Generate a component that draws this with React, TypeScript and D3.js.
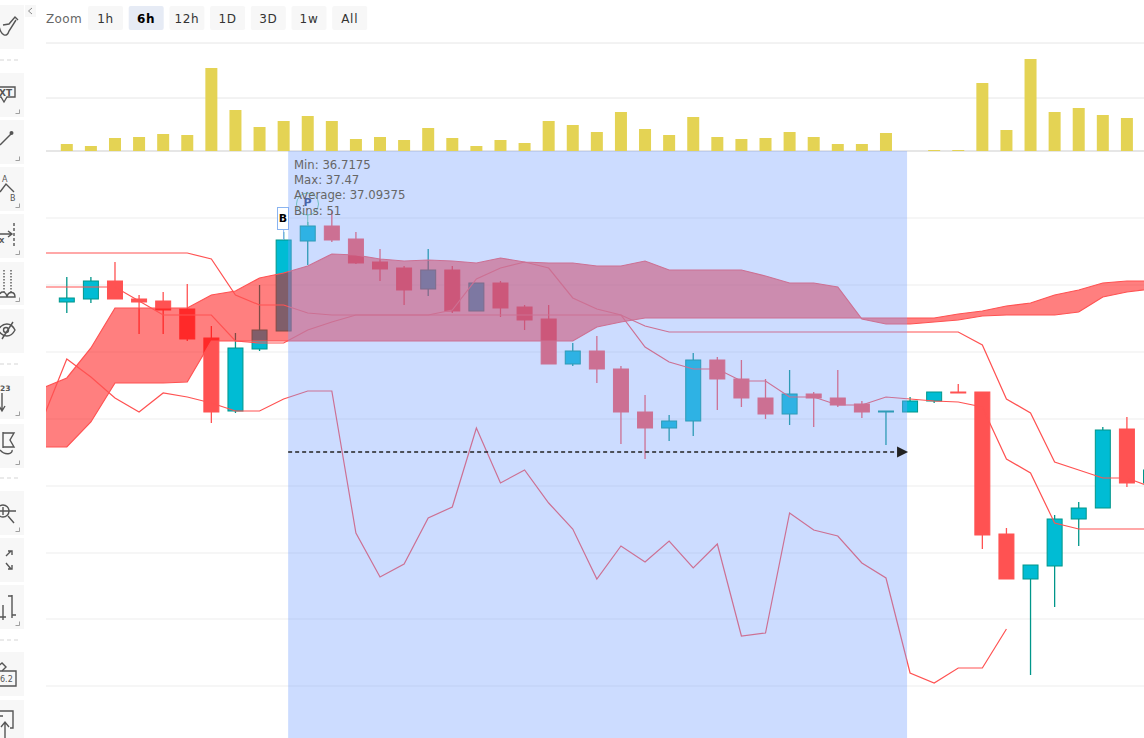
import React from "react";
import * as d3 from "d3";

const opens = [37.198,37.207,37.261,37.207,37.201,37.177,37.090,36.871,37.057,37.111,37.381,37.426,37.387,37.318,37.300,37.237,37.294,37.171,37.255,37.183,37.147,37.012,37.051,36.997,36.868,36.820,36.841,37.024,36.967,36.910,36.862,36.922,36.910,36.892,36.868,36.868,36.901,36.928,36.928,36.502,36.367,36.406,36.547,36.580,36.817,36.655];
const highs = [37.273,37.273,37.318,37.219,37.228,37.252,37.126,37.105,37.249,37.408,37.438,37.470,37.408,37.357,37.306,37.357,37.306,37.255,37.261,37.189,37.189,37.075,37.096,37.006,36.919,36.859,37.045,37.033,37.024,36.967,36.994,36.928,36.994,36.901,36.871,36.913,36.928,36.952,36.928,36.520,36.409,36.559,36.598,36.823,36.853,36.709];
const lows = [37.165,37.195,37.207,37.102,37.102,37.081,36.835,36.865,37.051,37.111,37.309,37.378,37.312,37.261,37.189,37.216,37.165,37.171,37.153,37.114,37.012,37.006,36.955,36.772,36.727,36.781,36.796,36.874,36.883,36.847,36.829,36.823,36.883,36.850,36.769,36.868,36.895,36.925,36.457,36.367,36.079,36.283,36.466,36.580,36.643,36.643];
const closes = [37.210,37.261,37.207,37.198,37.174,37.087,36.868,37.060,37.114,37.384,37.426,37.384,37.315,37.297,37.234,37.294,37.171,37.255,37.180,37.144,37.012,37.051,36.997,36.868,36.820,36.841,37.024,36.967,36.910,36.862,36.922,36.910,36.889,36.868,36.871,36.901,36.928,36.925,36.499,36.367,36.409,36.547,36.580,36.814,36.655,36.694];
const volumes = [70,50,130,140,170,160,830,410,240,300,350,300,120,140,110,230,130,50,110,80,300,260,190,390,220,160,340,140,120,130,190,140,70,70,180,0,10,10,680,210,920,390,430,360,330];

// Ichimoku series start one bar before the first candle (index -1).
const kijun = [37.345,37.345,37.345,37.345,37.345,37.345,37.345,37.327,37.219,37.189,37.189,37.165,37.159,37.159,37.159,37.159,37.159,37.159,37.159,37.159,37.159,37.159,37.159,37.159,37.159,37.126,37.108,37.108,37.108,37.108,37.108,37.108,37.108,37.108,37.108,37.108,37.108,37.108,37.108,37.069,36.907,36.865,36.718,36.694,36.670,36.670,36.643];
const tenkan = [37.243,37.243,37.243,37.243,37.201,37.159,37.159,37.159,37.081,37.075,37.075,37.114,37.138,37.159,37.159,37.159,37.159,37.174,37.267,37.300,37.318,37.300,37.210,37.177,37.159,37.063,37.018,36.997,36.997,36.961,36.961,36.913,36.913,36.889,36.889,36.913,36.907,36.901,36.898,36.883,36.727,36.685,36.535,36.517,36.517,36.517,36.517];
const chikou = [36.847,37.027,36.973,36.910,36.868,36.925,36.913,36.895,36.871,36.871,36.907,36.931,36.931,36.505,36.373,36.412,36.550,36.583,36.820,36.655,36.694,36.595,36.517,36.367,36.466,36.418,36.481,36.400,36.472,36.196,36.205,36.565,36.514,36.496,36.415,36.370,36.085,36.055,36.100,36.100,36.217];
const spanA = [36.940,36.970,37.060,37.180,37.180,37.180,37.180,37.219,37.231,37.270,37.285,37.306,37.342,37.339,37.327,37.321,37.324,37.321,37.315,37.330,37.318,37.315,37.315,37.306,37.306,37.321,37.294,37.294,37.294,37.294,37.276,37.255,37.255,37.243,37.147,37.132,37.132,37.138,37.144,37.156,37.159,37.159,37.159,37.168,37.213,37.228,37.237];
const spanB = [36.763,36.763,36.838,36.955,36.955,36.955,36.958,37.081,37.081,37.081,37.081,37.081,37.081,37.081,37.081,37.081,37.081,37.081,37.081,37.081,37.081,37.081,37.081,37.123,37.138,37.150,37.150,37.150,37.150,37.150,37.150,37.150,37.150,37.150,37.150,37.150,37.150,37.150,37.162,37.171,37.186,37.195,37.219,37.234,37.255,37.261,37.261];

const priceTicks = [37.45,37.249,37.048,36.847,36.646,36.445,36.247,36.046];
const volumeTicks = [0,530,1080];
const zoomLabels = ["1h","6h","12h","1D","3D","1w","All"];
const statLines = ["Min: 36.7175","Max: 37.47","Average: 37.09375","Bins: 51"];

const FONT = "'DejaVu Sans', sans-serif";
const UP = "#00bcd4", UP_EDGE = "#00968a", DOWN = "#ff5252";
const LEFT = 46, RIGHT = 1144;

const x = d3.scaleLinear().domain([0, 45]).range([66.8, 1151]);
const y = d3.scaleLinear().domain([37.45, 36.046]).range([218, 686]);
const yv = d3.scaleLinear().domain([0, 1080]).range([151, 43]);

const lineOf = (vals: number[], start = -1) =>
  d3.line<number>().x((_, i) => x(i + start)).y((d) => y(d))(vals) as string;

const cloudPath = d3.area<number>()
  .x((_, i) => x(i - 1))
  .y1((d) => y(d))
  .y0((_, i) => y(spanB[i]))(spanA) as string;

const selX0 = x(9) + 4.5;
const selX1 = x(35) - 3;
const arrowY = y(36.748);

const boxes: [number, number, boolean][] = [
  [5,44,false],[73,44,true],[120,44,true],[167,44,true],[214,44,true],[262,43,true],[309,44,false],
  [376,43,true],[424,44,true],[491,44,true],[538,44,false],[585,44,true],[652,44,false],[700,44,false],
];
const dashYs = [60,364,478,640];
const ink = "#555";

function Toolbar() {
  const s = { fill: "none", stroke: ink, strokeWidth: 1.4 };
  const t = { fontFamily: FONT, fill: ink, fontWeight: 700 };
  return (
    <g>
      {boxes.map(([by, h, c], i) => (
        <g key={i}>
          <rect x={0} y={by} width={24} height={h} fill="#f7f7f7" />
          {c && <path d={`M15.5 ${by + h - 3.5}H19.5V${by + h - 7.5}`} fill="none" stroke="#888" strokeWidth={0.8} />}
        </g>
      ))}
      {dashYs.map((d) => (
        <line key={d} x1={0} x2={19} y1={d} y2={d} stroke="#d5d5d5" strokeDasharray="4 3" />
      ))}
      <rect x={25} y={5} width={11} height={12} fill="#f7f7f7" />
      <path d="M32 8L28.5 11L32 14" fill="none" stroke="#888" />
      <path d="M-1 26C1 36 7 38 9 31L16 20M3 25L9 24L15 17L18 20" {...s} />
      <path d="M0 87H15V97H7L4 102L1 97H0" {...s} />
      <text x={-1} y={96} fontSize={9} {...t}>XT</text>
      <path d="M0 145L11 134" {...s} /><circle cx={11.5} cy={133} r={2} fill={ink} />
      <path d="M0 192L6 184L14 192" {...s} />
      <text x={2} y={182} fontSize={8} fontFamily={FONT} fill={ink}>A</text>
      <text x={10} y={201} fontSize={8} fontFamily={FONT} fill={ink}>B</text>
      <path d="M14 223V246" {...s} strokeDasharray="3 2" />
      <path d="M0 234H11M8 231L12 234L8 237" {...s} />
      <text x={-1} y={243} fontSize={7} {...t}>X</text>
      <path d="M4 270V292M11 270V292" {...s} strokeDasharray="1.5 1.5" />
      <path d="M0 297H15C15 291 8 291 7 297C6 291 1 291 0 294" {...s} />
      <path d="M-2 330C3 322 11 322 15 330C11 338 3 338 -2 330Z" {...s} />
      <circle cx={6} cy={330} r={2.5} {...s} /><path d="M2 339L13 322" {...s} />
      <text x={0} y={391} fontSize={7.5} {...t}>23</text>
      <path d="M2 393V410M-1 406L2 411L5 406" {...s} />
      <path d="M3 432V448M3 433L14 433L10 440L14 447H3" {...s} />
      <path d="M0 450C5 456 13 454 12 450" {...s} />
      <circle cx={3} cy={511} r={6} {...s} />
      <path d="M0 511H16M3 507V515M8 516L14 523" {...s} />
      <path d="M6 556L11 551M8 551H12V555M6 563L11 569M8 569H12V565" {...s} />
      <path d="M12 595V618M8 596H12M12 615H16M3 605V620M0 617H6" {...s} />
      <path d="M-2 666L2 663L6 667L2 671" {...s} />
      <path d="M-2 671H16V686H-2" {...s} />
      <text x={0} y={682} fontSize={8} fontFamily={FONT} fill={ink}>6.2</text>
      <path d="M-1 711H13V728H10M5 738V723M1 727L5 722L9 727M-1 716L3 716" {...s} />
    </g>
  );
}

export default function App() {
  return (
    <svg width={1144} height={738} style={{ position: "absolute", left: 0, top: 0, display: "block", background: "#fff" }}>
      <defs>
        <clipPath id="plot"><rect x={LEFT} y={151} width={RIGHT - LEFT} height={587} /></clipPath>
      </defs>
      <Toolbar />
      <text x={46} y={23} fontFamily={FONT} fontSize={12} letterSpacing={0.4} fill="#666">Zoom</text>
      {zoomLabels.map((l, i) => {
        const bx = 88 + i * 40.7;
        const on = l === "6h";
        return (
          <g key={l}>
            <rect x={bx} y={6} width={35} height={24} rx={2} fill={on ? "#e6ebf5" : "#f7f7f7"} />
            <text x={bx + 17.5} y={23} textAnchor="middle" fontFamily={FONT} fontSize={12} letterSpacing={0.7}
              fontWeight={on ? 700 : 400} fill={on ? "#000" : "#333"}>{l}</text>
          </g>
        );
      })}

      {volumeTicks.map((v, i) => (
        <line key={v} x1={LEFT} x2={RIGHT} y1={yv(v)} y2={yv(v)} stroke="#e6e6e6" strokeWidth={i === 0 ? 2 : 1} />
      ))}
      {priceTicks.map((p) => (
        <line key={p} x1={LEFT} x2={RIGHT} y1={y(p)} y2={y(p)} stroke="#ededed" strokeWidth={1} />
      ))}
      {volumes.map((v, i) => v > 0 && (
        <rect key={i} x={x(i) - 6} y={yv(v)} width={12} height={yv(0) - yv(v)} fill="#e4d354" />
      ))}

      <g clipPath="url(#plot)">
        {opens.map((o, i) => {
          const c = closes[i];
          const up = c >= o;
          const cx = x(i);
          const top = y(Math.max(o, c));
          const bot = y(Math.min(o, c));
          return (
            <g key={i}>
              <line x1={cx} x2={cx} y1={y(highs[i])} y2={y(lows[i])} stroke={up ? UP_EDGE : DOWN} strokeWidth={1.3} />
              <rect x={cx - 7.5} y={top} width={15} height={Math.max(bot - top, 1)} fill={up ? UP : DOWN} stroke={up ? UP_EDGE : DOWN} strokeWidth={1} />
            </g>
          );
        })}
        <path d={cloudPath} fill="rgba(255,0,0,0.5)" stroke="none" />
        <path d={lineOf(spanA)} fill="none" stroke="#ff5252" strokeWidth={1.2} />
        <path d={lineOf(spanB)} fill="none" stroke="#ff5252" strokeWidth={1.2} />
        <path d={lineOf(kijun)} fill="none" stroke="#ff5252" strokeWidth={1.2} />
        <path d={lineOf(tenkan)} fill="none" stroke="#ff5252" strokeWidth={1.2} />
        <path d={lineOf(chikou)} fill="none" stroke="#ff5252" strokeWidth={1.2} />
      </g>

      <line x1={x(9)} x2={x(9)} y1={230} y2={240} stroke="#8ab4f0" />
      <rect x={277.5} y={207.5} width={11} height={22} fill="#fff" stroke="#8ab4f0" />
      <text x={283} y={222} textAnchor="middle" fontFamily="'DejaVu Sans', sans-serif" fontWeight={700} fontSize={11} fill="#000">B</text>
      <line x1={x(10)} x2={x(10)} y1={215} y2={226} stroke="#6fd49c" />
      <circle cx={307.5} cy={204} r={11} fill="none" stroke="#6fd49c" />
      <text x={307.5} y={206} textAnchor="middle" fontFamily="'DejaVu Sans', sans-serif" fontWeight={700} fontSize={11} fill="#2c3e70">P</text>

      <rect x={selX0} y={151} width={selX1 - selX0} height={587} fill="rgba(121,163,255,0.38)" />
      <line x1={selX0} x2={selX1 - 10} y1={arrowY} y2={arrowY} stroke="#222" strokeWidth={1.4} strokeDasharray="4 3" />
      <path d={`M${selX1 - 10} ${arrowY - 5.5}L${selX1 + 1} ${arrowY}L${selX1 - 10} ${arrowY + 5.5}Z`} fill="#222" />
      {statLines.map((l, i) => (
        <text key={l} x={294} y={169 + i * 15.2} fontFamily={FONT} fontSize={11.7} fill="#666">{l}</text>
      ))}
    </svg>
  );
}
